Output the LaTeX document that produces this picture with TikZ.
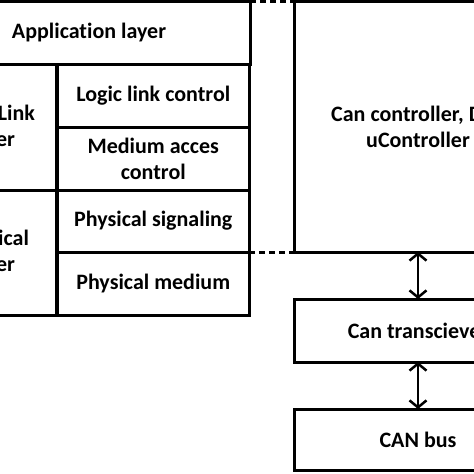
\documentclass[tikz,border=0pt]{standalone}
\usepackage{fontspec}
\setmainfont[Ligatures=CommonOff]{Carlito}
\usetikzlibrary{arrows.meta}
\begin{document}
\begin{tikzpicture}[x=1pt,y=-1pt,
  box/.style={draw=black, line width=3pt, outer sep=0pt, inner sep=0pt, align=center,
    font=\bfseries\fontsize{22}{26}\selectfont},
  dashconn/.style={line width=3pt, dash pattern=on 6pt off 4pt},
  biarrow/.style={line width=2.5pt, {Straight Barb[length=7pt,width=17pt]}-{Straight Barb[length=7pt,width=17pt]}}]
\useasboundingbox (0,0) rectangle (474,474);
\fill[white] (0,0) rectangle (474,474);
\clip (0,0) rectangle (474,474);
% left stack
\node[box, minimum width=322pt, minimum height=63pt] (app) at (89,33) {Application layer};
\node[box, minimum width=129pt, minimum height=125.5pt] (dl) at (-7.5,127.25) {Data Link\\layer};
\node[box, minimum width=129pt, minimum height=125pt] (ph) at (-7.5,252.5) {Physical\\layer};
\node[box, minimum width=191.5pt, minimum height=63pt] (llc) at (153.25,96) {Logic link control};
\node[box, minimum width=191.5pt, minimum height=62.5pt] (mac) at (153.25,158.75) {Medium acces\\control};
\node[box, minimum width=191.5pt, minimum height=62pt] (ps) at (153.25,221) {Physical signaling};
\node[box, minimum width=191.5pt, minimum height=63pt] (pm) at (153.25,283.5) {Physical medium};
\draw[line width=4.5pt] (dl.north east) -- (ph.south east);
% right stack
\node[box, minimum width=248pt, minimum height=250.5pt] (ctrl) at (418,126.75) {Can controller, DSP\\uController};
\node[box, minimum width=248pt, minimum height=63pt] (trx) at (418,330.5) {Can transciever};
\node[box, minimum width=248pt, minimum height=61pt] (bus) at (418,439.5) {CAN bus};
% connectors
\draw[dashconn] (app.north east) -- (ctrl.north west);
\draw[dashconn] (pm.north east) -- (ctrl.south west);
\draw[biarrow] (ctrl.south) -- (trx.north);
\draw[biarrow] (trx.south) -- (bus.north);
\end{tikzpicture}
\end{document}
